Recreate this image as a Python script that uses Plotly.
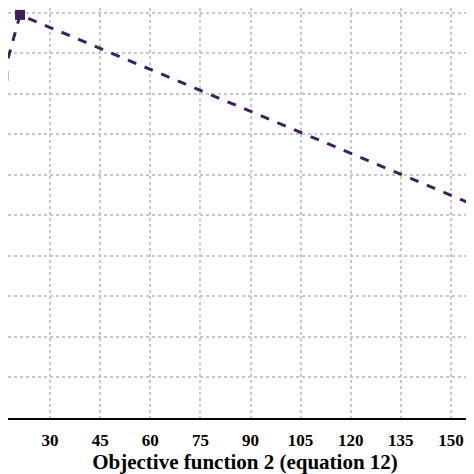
import plotly.graph_objects as go

obj2 = [16, 21, 165]
obj1 = [8.45, 9.95, 4.98]
xticks = [30, 45, 60, 75, 90, 105, 120, 135, 150]

fig = go.Figure(go.Scatter(
    x=obj2, y=obj1, mode="lines+markers",
    line=dict(color="#3f1f5c", width=3, dash="dash"),
    marker=dict(symbol="square", size=10, color="#3f1f5c"),
    cliponaxis=True,
))
fig.update_layout(
    width=474, height=474, margin=dict(l=0, r=0, t=0, b=64, autoexpand=False),
    plot_bgcolor="white", paper_bgcolor="white", showlegend=False,
    font=dict(family="Liberation Serif", color="black"),
    xaxis=dict(range=[17.4, 159.3], tickvals=xticks, showgrid=True,
               gridcolor="#c8c8c8", griddash="dot", gridwidth=2,
               showline=True, linecolor="black", linewidth=2, zeroline=False,
               automargin=False, ticklabelstandoff=6,
               tickfont=dict(size=17, family="Liberation Serif", weight="bold"),
               title=dict(text="<b>Objective function 2 (equation 12)</b>",
                          font=dict(size=21), standoff=4)),
    yaxis=dict(range=[0, 10.12], dtick=1, showticklabels=False, showgrid=True,
               automargin=False,
               gridcolor="#c8c8c8", griddash="dot", gridwidth=2, zeroline=False),
)
fig.write_html("out.html")
